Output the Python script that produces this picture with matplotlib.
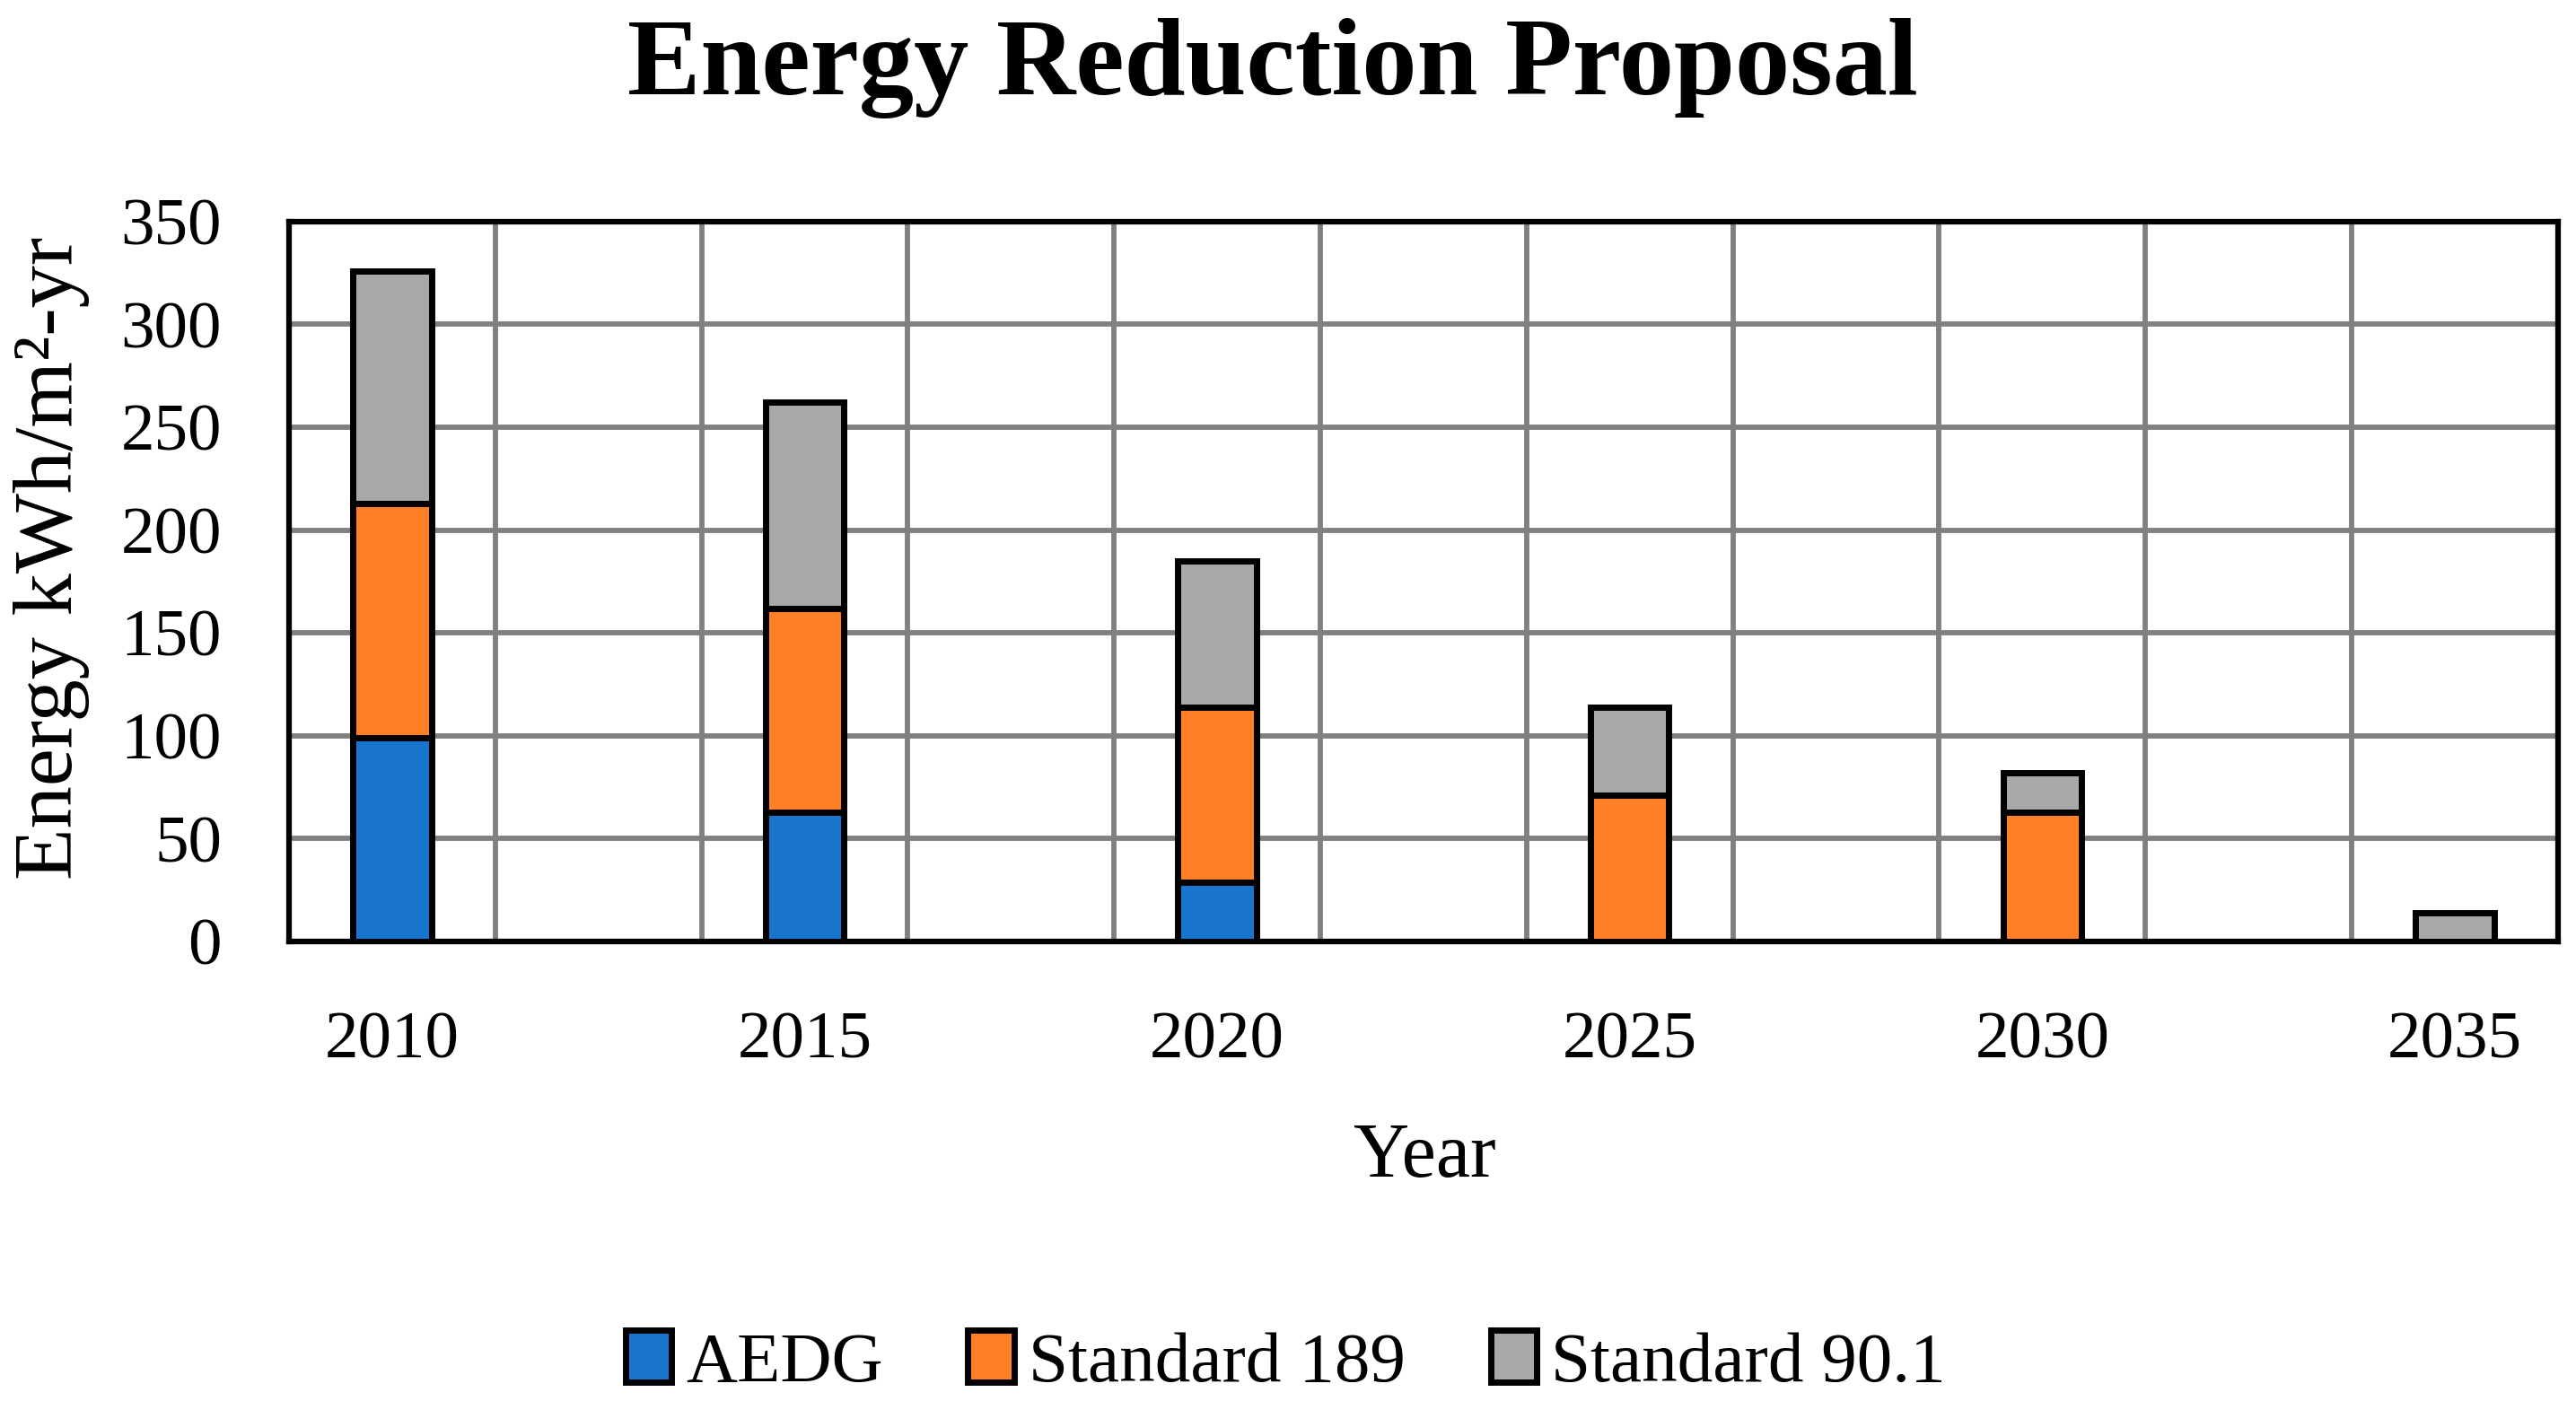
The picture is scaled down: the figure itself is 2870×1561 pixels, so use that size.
import matplotlib
matplotlib.use("Agg")
import matplotlib.pyplot as plt
import numpy as np

years = ["2010", "2015", "2020", "2025", "2030", "2035"]
aedg = [99, 63, 29, 0, 0, 0]
std189 = [114, 99, 85, 71, 63, 0]
std901 = [113, 100, 71, 43, 19, 14]
series_names = ["AEDG", "Standard 189", "Standard 90.1"]
colors = ["#1874CD", "#FF7F27", "#A8A8A8"]

plt.rcParams['font.family'] = ['Liberation Serif', 'DejaVu Serif']

fig = plt.figure(figsize=(28.7, 15.61), dpi=100)
ax = fig.add_axes([0.1122, 0.328, 0.8808, 0.514])

x = np.arange(len(years)) * 2
bottom = np.zeros(len(years))
for vals, name, c in zip([aedg, std189, std901], series_names, colors):
    v = np.array(vals, dtype=float)
    ax.bar(x, v, width=0.38, bottom=bottom, color=c, edgecolor='black',
           linewidth=5, label=name, zorder=3)
    bottom += v

ax.set_xlim(-0.5, 10.5)
ax.set_ylim(0, 350)
ax.set_yticks(np.arange(0, 351, 50))
ax.set_xticks(x)
ax.set_xticklabels(years)
ax.set_xticks(np.arange(0.5, 10.5, 1), minor=True)
ax.grid(axis='y', which='major', color='#808080', linewidth=4.2, zorder=0)
ax.grid(axis='x', which='minor', color='#808080', linewidth=4.2, zorder=0)
ax.tick_params(axis='both', which='both', length=0)
ax.tick_params(axis='x', pad=56, labelsize=54)
ax.tick_params(axis='y', pad=54, labelsize=54)
for s in ax.spines.values():
    s.set_linewidth(4.5)
    s.set_color('black')
ax.set_axisbelow(True)

fig.text(0.494, 0.951, "Energy Reduction Proposal", ha='center', va='center',
         fontsize=88, fontweight='bold')
fig.text(58/2870, 1-622/1561, "Energy kWh/m²-yr", rotation=90,
         ha='center', va='center', fontsize=68)
fig.text(1587/2870, 1-1290/1561, "Year", ha='center', va='center', fontsize=62)

fig.legend(loc='center', bbox_to_anchor=(0.499, 0.027), ncol=3, frameon=False,
           fontsize=57, handlelength=0.65, handleheight=0.75, handletextpad=0.2,
           columnspacing=1.2)

fig.savefig("out.png", dpi=100)
